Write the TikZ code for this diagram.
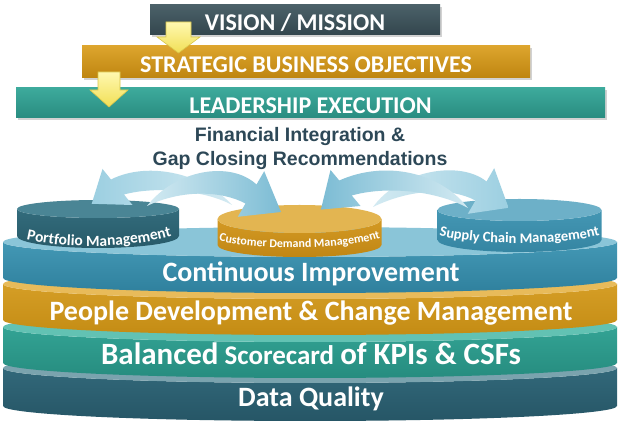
\documentclass[tikz,border=0pt]{standalone}
\usepackage{fontspec}
\setmainfont{Carlito}
\newfontfamily\arialf{Liberation Sans}
\usetikzlibrary{decorations.text,shadows}
\definecolor{visA}{HTML}{4B6169}
\definecolor{visB}{HTML}{33464D}
\definecolor{strA}{HTML}{DDA52E}
\definecolor{strB}{HTML}{BE850F}
\definecolor{ldrA}{HTML}{3DAA9C}
\definecolor{ldrB}{HTML}{298C80}
\definecolor{yelA}{HTML}{FFF8B0}
\definecolor{yelB}{HTML}{F1DF55}
\definecolor{yelC}{HTML}{D9C64A}
\definecolor{fintxt}{HTML}{2D4857}
\definecolor{arrLt}{HTML}{9CCFE1}
\definecolor{arrDk}{HTML}{7CBCD4}
\definecolor{arrTail}{HTML}{D3EAF2}
\definecolor{pfTop}{HTML}{4A8595}
\definecolor{pfSideA}{HTML}{336C7C}
\definecolor{pfSideB}{HTML}{275A69}
\definecolor{cuTop}{HTML}{E3B551}
\definecolor{cuSideA}{HTML}{D49A24}
\definecolor{cuSideB}{HTML}{C08614}
\definecolor{scTop}{HTML}{6DB0C8}
\definecolor{scSideA}{HTML}{4497B4}
\definecolor{scSideB}{HTML}{3585A2}
\definecolor{ciTop}{HTML}{8AC5D8}
\definecolor{ciSideA}{HTML}{4398B5}
\definecolor{ciSideB}{HTML}{2F809D}
\definecolor{pdTop}{HTML}{E8BB5A}
\definecolor{pdSideA}{HTML}{D59E26}
\definecolor{pdSideB}{HTML}{C48C14}
\definecolor{bsTop}{HTML}{62C2B3}
\definecolor{bsSideA}{HTML}{33A394}
\definecolor{bsSideB}{HTML}{268C7F}
\definecolor{dqTop}{HTML}{7AA3AE}
\definecolor{dqSideA}{HTML}{32687A}
\definecolor{dqSideB}{HTML}{265666}
\begin{document}
\begin{tikzpicture}[x=1pt,y=1pt,
  lyrtext/.style={text=white, font=\fontsize{28}{28}\selectfont\bfseries, anchor=base, inner sep=0pt},
  topbox/.style={inner sep=0pt, text=white, font=\fontsize{24}{24}\selectfont\bfseries,
     text height=20.5pt, text depth=0pt,
     drop shadow={opacity=0.35, shadow xshift=2pt, shadow yshift=-2pt}},
  yarrow/.style={top color=yelA, bottom color=yelB, draw=yelC, line width=0.6pt},
  fintext/.style={text=fintxt, font=\arialf\bfseries\fontsize{19.5}{25}\selectfont, anchor=base, inner sep=0pt},
  lyrarc/.style={x radius=307, y radius=15}
]
\useasboundingbox (0,0) rectangle (624,428);
\fill[white] (0,0) rectangle (624,428);

% ---------- stacked layers ----------
% Data Quality
\shade[top color=dqSideA, bottom color=dqSideB] (3,60) -- (3,22) arc[start angle=180,end angle=360,lyrarc] -- (617,60) arc[start angle=360,end angle=180,lyrarc] -- cycle;
\fill[dqTop] (310,60) ellipse[lyrarc];
% Balanced
\shade[top color=bsSideA, bottom color=bsSideB] (3,101) -- (3,65) arc[start angle=180,end angle=360,lyrarc] -- (617,101) arc[start angle=360,end angle=180,lyrarc] -- cycle;
\fill[bsTop] (310,101) ellipse[lyrarc];
% People
\shade[top color=pdSideA, bottom color=pdSideB] (3,144) -- (3,108) arc[start angle=180,end angle=360,lyrarc] -- (617,144) arc[start angle=360,end angle=180,lyrarc] -- cycle;
\fill[pdTop] (310,144) ellipse[lyrarc];
% Continuous Improvement
\shade[top color=ciSideA, bottom color=ciSideB] (3,186) -- (3,150) arc[start angle=180,end angle=360,lyrarc] -- (617,186) arc[start angle=360,end angle=180,lyrarc] -- cycle;
\fill[ciTop] (310,186) ellipse[lyrarc];

\node[lyrtext] (ci) at (311,146) {Continuous Improvement};
\node[lyrtext] (pd) at (311,107) {People Development \& Change Management};
\node[lyrtext, font=\fontsize{27}{27}\selectfont\bfseries] (bs) at (311,63) {{\fontsize{31}{31}\selectfont Balanced} Scorecard {\fontsize{31}{31}\selectfont of KPIs \& CSFs}};
\node[lyrtext] (dq) at (311,21) {Data Quality};

% ---------- disks ----------
% Portfolio
\shade[top color=pfSideA, bottom color=pfSideB] (17,219) -- (17,192) arc[start angle=180,end angle=360,x radius=81,y radius=12] -- (179,219) arc[start angle=360,end angle=180,x radius=81,y radius=9] -- cycle;
\fill[pfTop] (98,219) ellipse[x radius=81,y radius=9];
% Customer
\shade[top color=cuSideA, bottom color=cuSideB] (217.5,209) -- (217.5,183) arc[start angle=180,end angle=360,x radius=82,y radius=12] -- (381.5,209) arc[start angle=360,end angle=180,x radius=82,y radius=14] -- cycle;
\fill[cuTop] (299.5,209) ellipse[x radius=82,y radius=14];
% Supply
\shade[top color=scSideA, bottom color=scSideB] (437.5,218) -- (437.5,188) arc[start angle=180,end angle=360,x radius=82,y radius=12] -- (601.5,218) arc[start angle=360,end angle=180,x radius=82,y radius=11] -- cycle;
\fill[scTop] (519.5,218) ellipse[x radius=82,y radius=11];

\path[decorate, decoration={text along path, text align=center, text color=white,
  text={|\fontsize{15.5}{16}\selectfont\bfseries|Portfolio Management}}]
  (20,190) .. controls (60,179) and (130,178) .. (178,194);
\path[decorate, decoration={text along path, text align=center, text color=white,
  text={|\fontsize{12}{12}\selectfont\bfseries|Customer Demand Management}}]
  (216,188) .. controls (255,177) and (345,177) .. (383,191);
\path[decorate, decoration={text along path, text align=center, text color=white,
  text={|\fontsize{14.5}{15}\selectfont\bfseries|Supply Chain Management}}]
  (436,193) .. controls (475,182) and (565,182) .. (603,194);

% ---------- curved arrows ----------
\shade[left color=arrLt, right color=arrTail] (232,223) .. controls (205,253) and (150,268) .. (111,248.5) -- (102.5,259) -- (91.7,224.2) -- (132.5,223) -- (124,233.5) .. controls (155,242) and (205,238) .. (232,223) -- cycle;
\shade[left color=arrTail, right color=arrDk] (147,222) .. controls (175,258) and (230,268) .. (256.5,243.5) -- (264.2,256.8) -- (281,216) -- (237.8,211.2) -- (245.5,224.5) .. controls (220,238) and (180,238) .. (147,222) -- cycle;
\shade[left color=arrTail, right color=arrLt] (373,221) .. controls (400,258) and (460,268) .. (486.5,246.5) -- (494.2,259.8) -- (508.6,220.2) -- (467.8,214.2) -- (475.5,227.5) .. controls (450,241) and (410,239) .. (373,221) -- cycle;
\shade[left color=arrDk, right color=arrTail] (468,220) .. controls (440,256) and (385,268) .. (339.25,247.5) -- (330.5,258) -- (320.9,218.4) -- (360.5,222) -- (351.75,232.5) .. controls (385,242) and (435,238) .. (468,220) -- cycle;

% ---------- text ----------
\node[fintext] (fin1) at (300,286) {Financial Integration \&};
\node[fintext] (fin2) at (300,262) {Gap Closing Recommendations};

% ---------- top boxes ----------
\node[topbox, top color=visA, bottom color=visB, minimum width=290pt, minimum height=30pt] (vision) at (295,408) {VISION / MISSION};
\node[topbox, top color=strA, bottom color=strB, minimum width=448pt, minimum height=32pt] (sbo) at (306,366) {STRATEGIC BUSINESS OBJECTIVES};
\node[topbox, top color=ldrA, bottom color=ldrB, minimum width=589pt, minimum height=30pt] (lead) at (310.5,325) {LEADERSHIP EXECUTION};

% yellow arrows
\path[yarrow] (166,406) -- (191,406) -- (191,391) -- (200,391) -- (178.5,375) -- (157,391) -- (166,391) -- cycle;
\path[yarrow] (98,356) -- (120,356) -- (120,338) -- (128,338) -- (109,321) -- (90,338) -- (98,338) -- cycle;
\end{tikzpicture}
\end{document}
